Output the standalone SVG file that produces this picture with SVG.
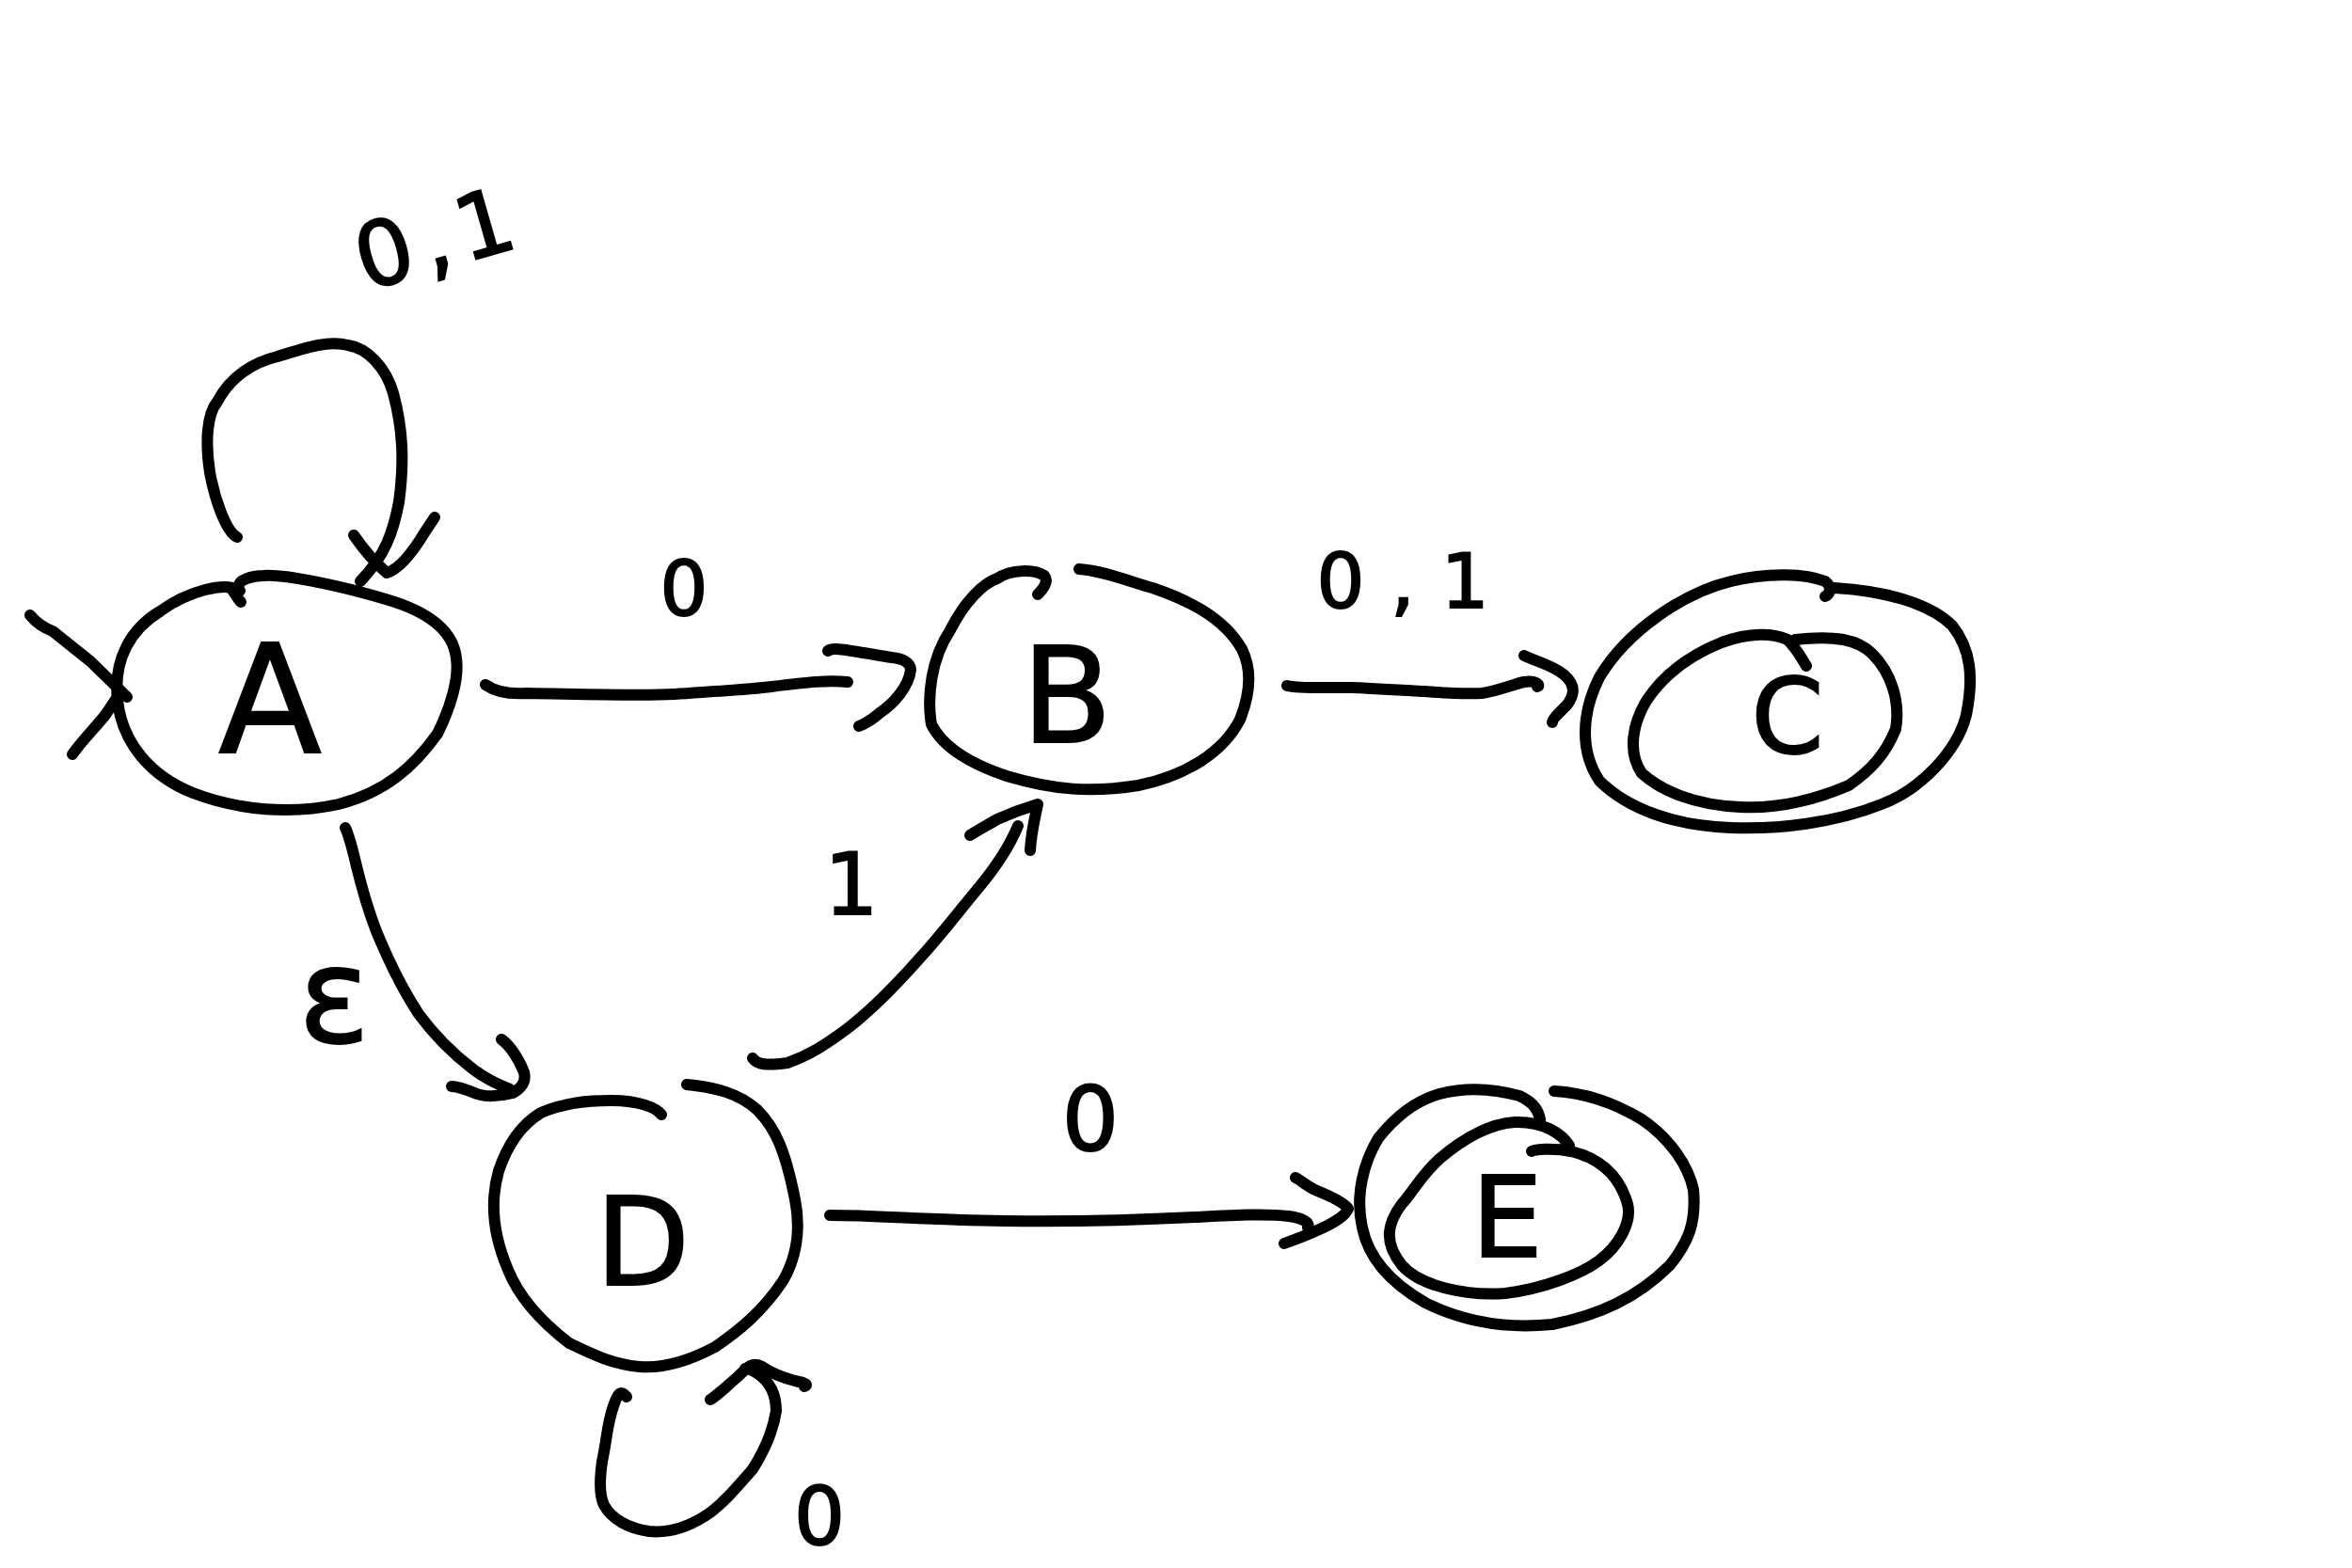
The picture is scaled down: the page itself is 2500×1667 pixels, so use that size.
<svg xmlns="http://www.w3.org/2000/svg" width="2500" height="1667" viewBox="0 0 2500 1667">
<style>
.s{fill:none;stroke:#000;stroke-width:12;stroke-linecap:round;stroke-linejoin:round}
.t{font-family:"DejaVu Sans",sans-serif;fill:#000;stroke:#000;stroke-width:2;text-anchor:middle}
</style>
<rect width="2500" height="1667" fill="#fff"/>
<g id="node-A">
<path class="s" d="M 255,628 C 240,618 200,628 170,650 C 140,668 120,700 125,745 C 130,790 160,825 205,843 C 255,862 310,866 360,855 C 410,842 440,815 465,780 C 480,750 488,720 485,700 C 482,670 455,650 410,637 C 360,622 300,610 280,612 C 265,612 255,618 255,620"/>
<path class="s" d="M 245,625 C 250,630 252,636 256,640"/>
<text class="t" x="287" y="800" font-size="160">A</text>
</g>
<g id="node-B">
<path class="s" d="M 1147,605 C 1175,607 1205,620 1225,625 C 1260,637 1300,655 1320,690 C 1330,710 1330,735 1318,765 C 1300,800 1260,825 1210,835 C 1160,843 1120,840 1070,825 C 1025,810 1000,790 990,770 C 985,740 990,700 1010,670 C 1025,640 1045,620 1060,615 C 1075,605 1100,605 1110,612 C 1115,618 1110,625 1103,632"/>
<text class="t" x="1134" y="789" font-size="140">B</text>
</g>
<g id="node-C">
<path class="s" d="M 1950,625 C 2000,628 2050,640 2075,665 C 2095,690 2098,720 2090,760 C 2080,800 2040,840 2000,855 C 1950,875 1890,882 1840,880 C 1780,878 1730,860 1700,830 C 1680,800 1680,760 1700,720 C 1730,670 1790,630 1840,618 C 1880,608 1920,610 1940,618 C 1948,624 1945,632 1940,634"/>
<path class="s" d="M 1908,680 C 1950,675 1975,680 1990,695 C 2010,715 2020,745 2015,775 C 2005,800 1990,818 1965,835 C 1930,850 1890,860 1850,858 C 1800,856 1765,840 1745,822 C 1730,800 1735,770 1750,745 C 1770,715 1800,695 1830,683 C 1860,672 1885,673 1900,680 C 1910,690 1915,700 1920,708"/>
<text class="t" x="1900" y="800" font-size="110">C</text>
</g>
<g id="node-D">
<path class="s" d="M 730,1153 C 760,1156 785,1162 805,1180 C 825,1200 835,1225 845,1275 C 852,1310 845,1340 832,1362 C 810,1395 785,1415 760,1432 C 730,1448 705,1455 680,1453 C 650,1450 630,1440 605,1428 C 575,1405 552,1380 540,1350 C 525,1315 520,1280 530,1245 C 540,1215 555,1195 575,1183 C 600,1172 625,1170 650,1170 C 680,1170 698,1178 703,1185"/>
<text class="t" x="683" y="1366" font-size="130">D</text>
</g>
<g id="node-E">
<path class="s" d="M 1652,1160 C 1690,1162 1720,1175 1745,1190 C 1775,1210 1795,1240 1800,1265 C 1803,1300 1795,1320 1775,1345 C 1740,1380 1700,1398 1650,1408 C 1600,1413 1555,1405 1515,1385 C 1480,1365 1455,1340 1448,1305 C 1440,1270 1450,1235 1465,1210 C 1485,1185 1505,1170 1530,1163 C 1560,1155 1590,1158 1615,1165 C 1630,1172 1635,1180 1637,1190"/>
<path class="s" d="M 1668,1218 C 1660,1205 1640,1192 1610,1193 C 1580,1195 1550,1215 1530,1232 C 1510,1250 1500,1270 1490,1280 C 1475,1300 1470,1320 1490,1345 C 1510,1368 1560,1378 1600,1375 C 1640,1370 1680,1355 1700,1340 C 1720,1325 1735,1300 1730,1280 C 1720,1245 1695,1230 1670,1224 C 1650,1220 1630,1222 1628,1224"/>
<text class="t" x="1602" y="1336" font-size="120">E</text>
</g>
<g id="connectors">
<path class="s" d="M 32,654 C 40,664 48,668 56,671 L 96,703 L 135,741"/>
<path class="s" d="M 77,802 C 85,790 100,775 112,760 L 128,736"/>
<path class="s" d="M 252,571 C 240,565 228,530 223,502 C 218,470 220,440 231,427 C 245,400 270,385 295,379 C 330,368 350,362 370,367 C 390,370 410,390 418,418 C 428,455 430,490 424,534 C 418,565 410,590 383,618"/>
<path class="s" d="M 376,569 C 385,582 395,595 411,609 C 425,605 440,585 452,565 L 462,550"/>
<path class="s" d="M 516,728 C 529,737 545,738 560,737 C 620,738 680,740 717,738 C 760,735 797,733 820,730 C 860,725 880,723 901,725"/>
<path class="s" d="M 880,692 C 885,688 893,690 948,699 C 960,700 968,705 968,712 C 966,730 950,748 935,758 C 925,767 918,770 913,772"/>
<path class="s" d="M 1368,729 C 1380,732 1400,731 1435,731 C 1470,732 1500,735 1514,735 C 1540,737 1560,738 1575,737 C 1590,735 1610,727 1620,725 C 1632,723 1638,728 1634,730"/>
<path class="s" d="M 1620,697 C 1632,703 1650,707 1662,717 C 1675,728 1674,738 1666,749 C 1655,760 1650,765 1650,768"/>
<path class="s" d="M 800,1125 C 805,1132 815,1133 837,1130 C 860,1122 877,1111 900,1094 C 925,1075 950,1050 980,1016 C 1000,994 1020,968 1040,944 C 1060,920 1075,895 1082,878"/>
<path class="s" d="M 1031,888 C 1040,882 1050,877 1060,871 C 1080,862 1093,858 1103,855 C 1100,870 1096,885 1095,904"/>
<path class="s" d="M 367,880 C 372,890 375,905 380,925 C 387,953 395,980 406,1004 C 418,1032 430,1055 445,1078 C 465,1105 485,1123 502,1136 C 520,1150 535,1155 542,1158"/>
<path class="s" d="M 533,1105 C 540,1110 550,1122 557,1140 C 560,1152 552,1158 545,1162 C 530,1166 515,1166 507,1163 C 495,1158 485,1155 480,1155"/>
<path class="s" d="M 882,1292 C 930,1292 990,1297 1068,1298 C 1140,1299 1211,1297 1270,1294 C 1310,1292 1345,1290 1370,1293 C 1385,1295 1393,1300 1390,1305"/>
<path class="s" d="M 1377,1252 C 1383,1255 1390,1262 1400,1266 C 1415,1272 1428,1278 1433,1285 C 1430,1293 1415,1302 1398,1309 C 1380,1317 1370,1320 1365,1322"/>
<path class="s" d="M 666,1485 C 660,1478 657,1480 652,1495 C 645,1515 646,1525 640,1554 C 637,1575 637,1590 642,1600 C 650,1615 668,1625 690,1628 C 710,1630 730,1624 749,1612 C 768,1600 784,1580 800,1562 C 812,1543 822,1520 825,1500 C 825,1485 820,1470 805,1460 C 800,1457 795,1455 792,1455"/>
<path class="s" d="M 755,1488 C 762,1484 773,1473 785,1463 C 795,1453 800,1447 810,1453 C 820,1460 830,1464 845,1468 C 855,1470 860,1472 855,1474"/>
</g>
<g id="labels">
<text class="t" x="470" y="285" font-size="95" transform="rotate(-16 470 265)" letter-spacing="10">0,1</text>
<text class="t" x="727" y="654" font-size="80">0</text>
<text class="t" x="1505" y="646" font-size="80" letter-spacing="28">0,1</text>
<text class="t" x="355" y="1108" font-size="140">ε</text>
<text class="t" x="905" y="972" font-size="90">1</text>
<text class="t" x="1159" y="1223" font-size="95">0</text>
<text class="t" x="871" y="1642" font-size="85">0</text>
</g>
</svg>
